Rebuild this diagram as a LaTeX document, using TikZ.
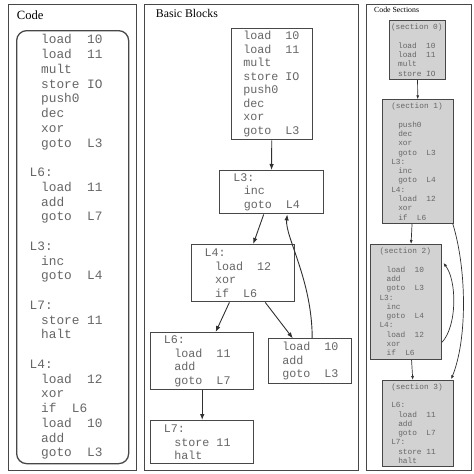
\documentclass[tikz,border=0pt]{standalone}
\usepackage{fontspec}
\setmainfont{Liberation Serif}
\newfontfamily\codefont{Liberation Mono}
\usetikzlibrary{arrows.meta,calc}
\definecolor{txtgray}{HTML}{666666}
\definecolor{linegray}{HTML}{474747}
\definecolor{arrgray}{HTML}{303030}
\definecolor{secfill}{HTML}{D2D2D2}
\newcommand\ind{\hspace*{0.9em}}
\newcommand\one{\kern0.6em\relax}
\newcommand\two{\kern1.2em\relax}
\begin{document}
\begin{tikzpicture}[x=1pt,y=-1pt,
  panel/.style={draw=linegray,line width=1.3pt,anchor=north west,inner sep=0pt},
  title/.style={anchor=base west,inner sep=0pt,text=black},
  bigcode/.style={font={\codefont\fontsize{12.8}{14.75}\selectfont},text=txtgray},
  bbcode/.style={font={\codefont\fontsize{11.7}{13.5}\selectfont},text=txtgray},
  seccode/.style={font={\codefont\fontsize{7.8}{9.3}\selectfont},text=txtgray,fill=secfill},
  box/.style={draw=linegray,line width=1.1pt,anchor=north west,inner ysep=0pt,align=left},
  arr/.style={draw=arrgray,line width=0.9pt,-{Latex[length=6pt,width=4.5pt]}},
  sarr/.style={draw=arrgray,line width=0.7pt,-{Latex[length=4pt,width=3pt]}}
]
\useasboundingbox (0,0) rectangle (474,474);
\fill[white] (0,0) rectangle (474,474);

% panels
\node[panel,minimum width=128pt,minimum height=466pt] (p1) at (8,4) {};
\node[panel,minimum width=214pt,minimum height=466pt] (p2) at (144,4) {};
\node[panel,minimum width=105.5pt,minimum height=466pt] (p3) at (365.5,4) {};

\node[title,font=\fontsize{12.6}{14}\selectfont] (t1) at (16.7,19) {Code};
\node[title,font=\fontsize{11.8}{14}\selectfont] (t2) at (155.7,17.3) {Basic Blocks};
\node[title,font=\fontsize{7.8}{9}\selectfont] (t3) at (374,12.7) {Code Sections};

% code panel
\node[box,bigcode,rounded corners=10pt,line width=1.3pt,minimum width=112pt,minimum height=433pt,inner xsep=13pt,text width=86pt] (code) at (16,30) {%
\ind load\two 10\\
\ind load\two 11\\
\ind mult\\
\ind store\one IO\\
\ind push0\\
\ind dec\\
\ind xor\\
\ind goto\two L3\\[14.75pt]
L6:\\
\ind load\two 11\\
\ind add\\
\ind goto\two L7\\[14.75pt]
L3:\\
\ind inc\\
\ind goto\two L4\\[14.75pt]
L7:\\
\ind store\one 11\\
\ind halt\\[14.75pt]
L4:\\
\ind load\two 12\\
\ind xor\\
\ind if\two L6\\
\ind load\two 10\\
\ind add\\
\ind goto\two L3};

% basic blocks
\node[box,bbcode,minimum width=81pt,minimum height=111.3pt,inner xsep=12pt,text width=57pt] (A) at (230.7,28) {%
load\two 10\\
load\two 11\\
mult\\
store\one IO\\
push0\\
dec\\
xor\\
goto\two L3};
\node[box,bbcode,minimum width=103.4pt,minimum height=43.3pt,inner xsep=13.4pt,text width=76.6pt] (L3) at (219.3,170) {%
L3:\\
\ind inc\\
\ind goto\two L4};
\node[box,bbcode,minimum width=103.3pt,minimum height=57.3pt,inner xsep=13.3pt,text width=76.7pt] (L4) at (190.7,244) {%
L4:\\
\ind load\two 12\\
\ind xor\\
\ind if\two L6};
\node[box,bbcode,minimum width=103.3pt,minimum height=57.3pt,inner xsep=13.3pt,text width=76.7pt] (L6) at (150,332) {%
L6:\\
\ind load\two 11\\
\ind add\\
\ind goto\two L7};
\node[box,bbcode,minimum width=82.7pt,minimum height=44.4pt,inner xsep=13.5pt,text width=55.7pt] (B) at (268.3,338.3) {%
load\two 10\\
add\\
goto\two L3};
\node[box,bbcode,minimum width=103.3pt,minimum height=43.3pt,inner xsep=13.3pt,text width=76.7pt] (L7) at (150,420) {%
L7:\\
\ind store\one 11\\
\ind halt};

\draw[arr] (A.south) -- (L3.north);
\draw[arr] (L3) -- (L4);
\draw[arr] (L4) -- (L6);
\draw[arr] (L4) -- (B);
\draw[arr] (L6.south) -- (L7.north);
\draw[arr] ($(B.north)+(2,0)$) .. controls ($(B.north)+(2,-58)$) and ($(L3.south)+(13.3,22)$) .. ($(L3.south)+(15.7,0)$);

% code sections
\node[box,seccode,minimum width=56pt,minimum height=59pt,inner xsep=1.5pt,text width=53pt] (s0) at (389,20) {%
(section\one 0)\\[9.3pt]
\ind load\two 10\\
\ind load\two 11\\
\ind mult\\
\ind store\one IO};
\node[box,seccode,minimum width=71pt,minimum height=123.4pt,inner xsep=9pt,text width=53pt] (s1) at (381.7,99.3) {%
(section\one 1)\\[9.3pt]
\ind push0\\
\ind dec\\
\ind xor\\
\ind goto\two L3\\
L3:\\
\ind inc\\
\ind goto\two L4\\
L4:\\
\ind load\two 12\\
\ind xor\\
\ind if\two L6};
\node[box,seccode,minimum width=71pt,minimum height=114.7pt,inner xsep=9pt,text width=53pt] (s2) at (370,244) {%
(section\one 2)\\[9.3pt]
\ind load\two 10\\
\ind add\\
\ind goto\two L3\\
L3:\\
\ind inc\\
\ind goto\two L4\\
L4:\\
\ind load\two 12\\
\ind xor\\
\ind if\two L6};
\node[box,seccode,minimum width=71pt,minimum height=86pt,inner xsep=9pt,text width=53pt] (s3) at (381.7,380) {%
(section\one 3)\\[9.3pt]
L6:\\
\ind load\two 11\\
\ind add\\
\ind goto\two L7\\
L7:\\
\ind store\one 11\\
\ind halt};

\draw[sarr] (s0.south) -- (s1.north);
\draw[sarr] ($(s1.south)+(-5.7,0)$) -- ($(s2.north)+(5,0)$);
\draw[sarr] ($(s2.south)+(5.5,0)$) -- ($(s3.north)+(-5,0)$);
\draw[sarr] ($(s1.south east)+(-1,0)$) .. controls ($(s1.south east)+(13.3,47)$) and ($(s3.north east)+(13.3,-40)$) .. ($(s3.north east)+(-2.7,-0.7)$);
\draw[sarr] ($(s2.east)+(0,40.3)$) .. controls ($(s2.east)+(15,24)$) and ($(s2.east)+(15,-21)$) .. ($(s2.east)+(1.3,-39)$);
\end{tikzpicture}
\end{document}
